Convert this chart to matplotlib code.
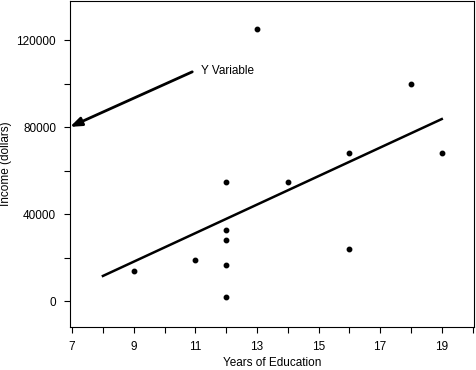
import numpy as np
import matplotlib.pyplot as plt

plt.rcParams['font.family'] = ['Liberation Sans', 'DejaVu Sans']
plt.rcParams['font.size'] = 8.5

# years of education and income
years = [9, 11, 12, 12, 12, 12, 12, 13, 14, 16, 16, 18, 19]
income = [14000, 19000, 2000, 16500, 28000, 33000, 55000, 125000, 55000, 24000, 68000, 100000, 68000]

# fitted line ends
fit_x = [8, 19]
fit_y = [11700, 83800]

xticks = [7, 9, 11, 13, 15, 17, 19]
yticks = [0, 40000, 80000, 120000]

fig = plt.figure(figsize=(4.76, 3.70), dpi=100)
ax = fig.add_axes([0.147, 0.116, 0.849, 0.881])

ax.plot(years, income, 'o', color='black', markersize=3.2)
ax.plot(fit_x, fit_y, color='black', linewidth=1.8)

ax.set_xlim(6.93, 20.05)
ax.set_ylim(-11800, 138000)
ax.set_xticks(xticks)
ax.set_xticks(range(8, 21, 2), minor=True)
ax.set_yticks(yticks)
ax.set_yticks([20000, 60000, 100000], minor=True)
ax.tick_params(which='both', direction='out', length=4, width=0.8, colors='black', pad=6)

for s in ax.spines.values():
    s.set_linewidth(0.8)

ax.set_xlabel('Years of Education', labelpad=3)
ax.set_ylabel('Income (dollars)', labelpad=3)

ax.annotate('', xy=(6.93, 80200), xytext=(10.9, 105500),
            arrowprops=dict(arrowstyle='-|>,head_length=0.8,head_width=0.3',
                            color='black', linewidth=2, shrinkA=0, shrinkB=0))
ax.text(11.2, 105800, 'Y Variable', va='center', ha='left')

fig.savefig('out.png', dpi=100)
